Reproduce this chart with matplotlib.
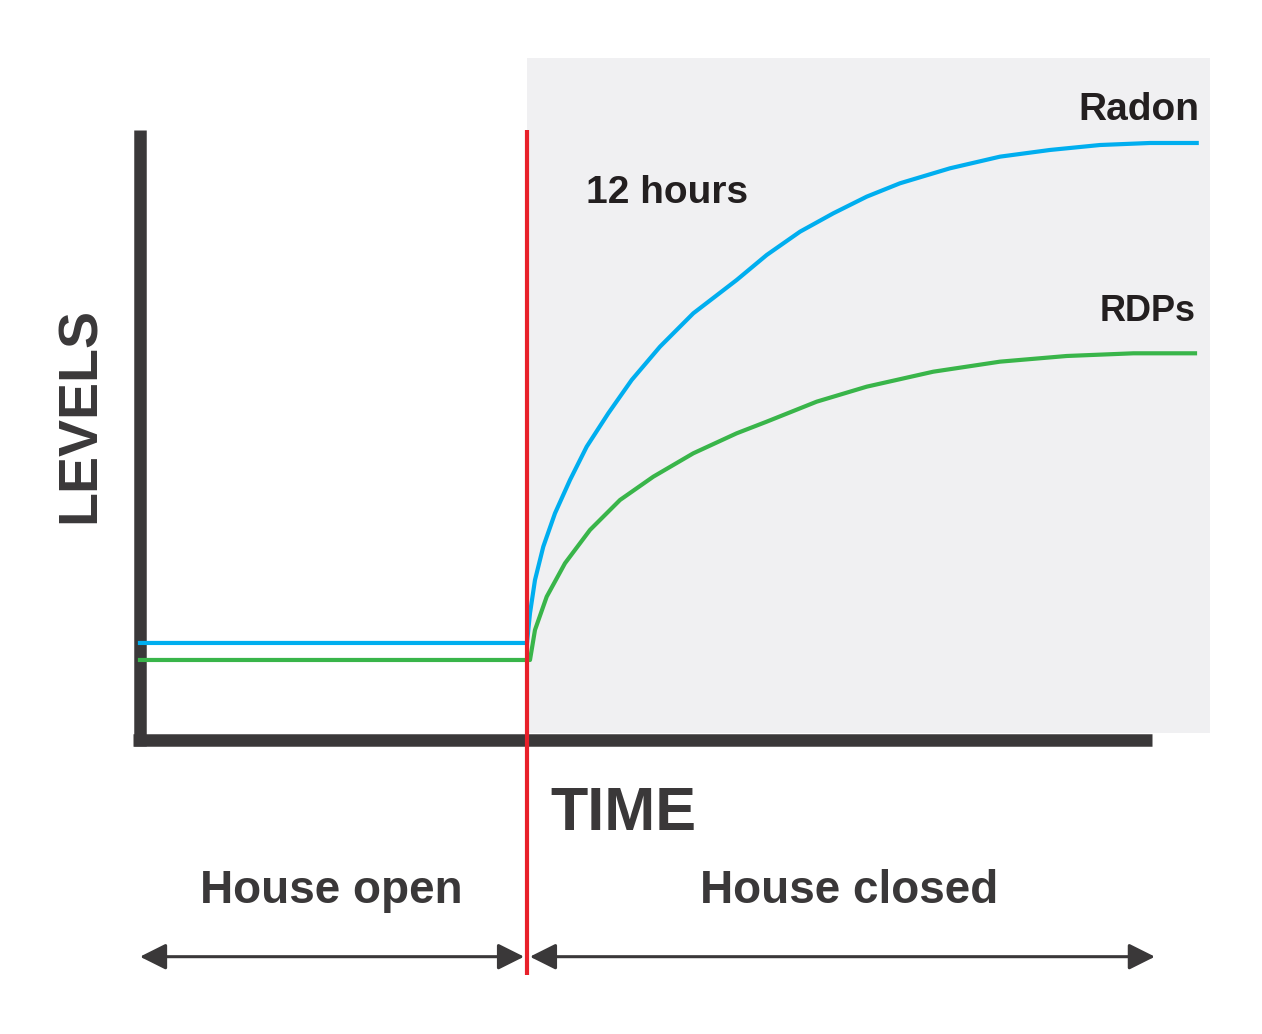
import matplotlib.pyplot as plt
from matplotlib.patches import Rectangle

# time in hours (house closed at t=0), level in % of the radon plateau
radon_t = [-12, 0, 0.093, 0.248, 0.505, 0.868, 1.333, 1.851, 2.521, 3.246, 4.124, 5.157,
           6.502, 7.433, 8.465, 9.498, 10.533, 11.566, 13.116, 14.667, 16.217, 17.767,
           19.318, 20.766]
radon_level = [16.25, 16.25, 21.22, 26.80, 32.38, 37.97, 43.55, 49.13, 54.72, 60.30, 65.88,
               71.47, 77.05, 81.24, 85.14, 88.22, 91.01, 93.25, 95.76, 97.71, 98.83, 99.66,
               100.0, 100.0]

rdp_t = [-12, 0.093, 0.248, 0.611, 1.178, 1.953, 2.884, 3.916, 5.157, 6.502, 7.433, 8.983,
         10.533, 12.598, 14.667, 16.735, 18.802, 20.713]
rdp_level = [13.40, 13.40, 18.43, 24.00, 29.60, 35.18, 40.20, 44.10, 48.02, 51.37, 53.32,
             56.67, 59.18, 61.69, 63.37, 64.32, 64.77, 64.77]

open_span = (-12.0, -0.09)
closed_span = (0.09, 19.47)

DARK = "#3a3839"
INK = "#231f20"
BLUE = "#00aeef"
GREEN = "#39b54a"
RED = "#e8202a"
FONT = ["Liberation Sans", "DejaVu Sans"]

fig = plt.figure(figsize=(12.62, 10.34), dpi=100)
ax = fig.add_axes([0, 0, 1, 1])
ax.set_xlim(-16.34, 22.79)
ax.set_ylim(-49.25, 123.95)
ax.axis("off")

# shaded "house closed" area
ax.add_patch(Rectangle((0, 1.17), 21.18, 113.0, facecolor="#f0f0f2", edgecolor="none", zorder=0))

# axes drawn as thick bars
ax.plot([-12, -12], [-1.0, 102.2], color=DARK, lw=9, solid_capstyle="butt", zorder=2)
ax.plot([-12.22, 19.38], [0, 0], color=DARK, lw=9, solid_capstyle="butt", zorder=2)

ax.plot(radon_t, radon_level, color=BLUE, lw=3, solid_joinstyle="round", zorder=3)
ax.plot(rdp_t, rdp_level, color=GREEN, lw=3, solid_joinstyle="round", zorder=3)

ax.plot([0, 0], [-39.4, 102.2], color=RED, lw=3, solid_capstyle="butt", zorder=4)

arrow_y = -36.3
for a, b in (open_span, closed_span):
    ax.annotate("", xy=(b, arrow_y), xytext=(a, arrow_y),
                arrowprops=dict(arrowstyle="<|-|>,head_length=0.8,head_width=0.4",
                                color=DARK, lw=2.2, shrinkA=0, shrinkB=0,
                                mutation_scale=20))


def fx(px):
    return px / 1262


def fy(py):
    return 1 - py / 1034


fig.text(fx(1199), fy(120), "Radon", ha="right", va="baseline", fontsize=28,
         fontweight="bold", family=FONT, color=INK)
fig.text(fx(586), fy(203), "12 hours", ha="left", va="baseline", fontsize=28,
         fontweight="bold", family=FONT, color=INK)
fig.text(fx(1196), fy(321), "RDPs", ha="right", va="baseline", fontsize=26,
         fontweight="bold", family=FONT, color=INK)
fig.text(fx(81), fy(415), "LEVELS", ha="center", va="center", rotation=90, fontsize=40,
         fontweight="bold", family=FONT, color=DARK)
fig.text(fx(550), fy(830), "TIME", ha="left", va="baseline", fontsize=44,
         fontweight="bold", family=FONT, color=DARK)
fig.text(fx(331), fy(903), "House open", ha="center", va="baseline", fontsize=33,
         fontweight="bold", family=FONT, color=DARK)
fig.text(fx(849), fy(903), "House closed", ha="center", va="baseline", fontsize=33,
         fontweight="bold", family=FONT, color=DARK)

fig.savefig("out.png", dpi=100, facecolor="white")
